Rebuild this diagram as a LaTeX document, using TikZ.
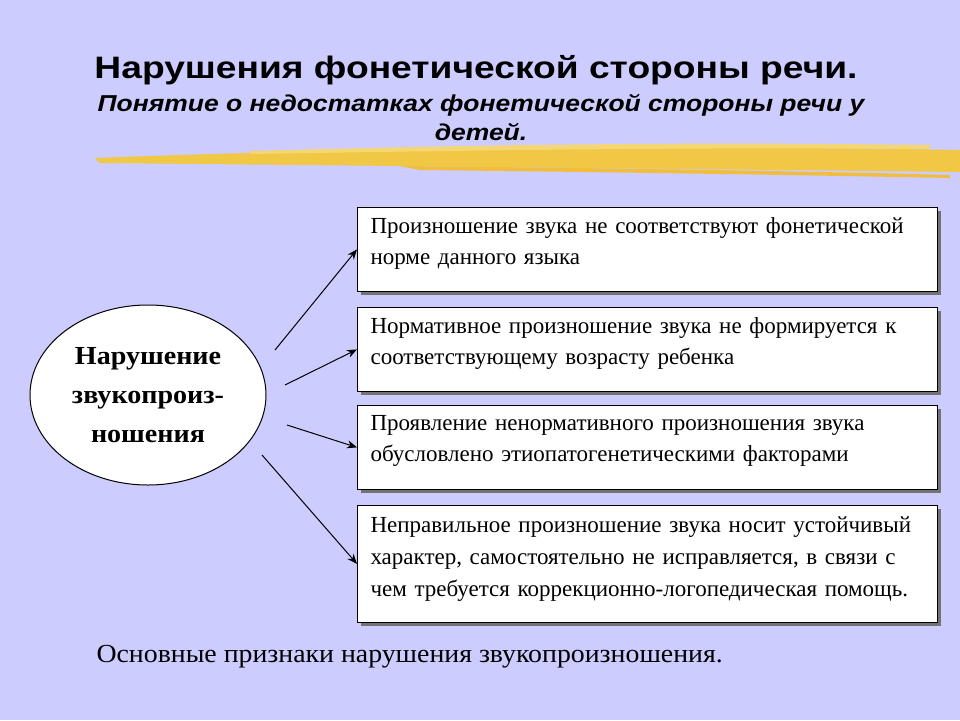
\documentclass[tikz,border=0pt]{standalone}
\usepackage{fontspec}
\usetikzlibrary{shapes.geometric,arrows.meta}
\setmainfont{Liberation Serif}
\newfontfamily\hdr{Liberation Sans}
\definecolor{bg}{RGB}{204,204,255}
\definecolor{brush}{RGB}{240,200,70}
\begin{document}
\begin{tikzpicture}[x=1pt,y=-1pt,
  box/.style={draw=black,fill=white,line width=0.8pt,minimum width=580pt,anchor=north west,inner sep=0pt},
  btext/.style={font=\fontsize{23}{31}\selectfont,align=left,text width=570pt,anchor=north west},
  arr/.style={-{Stealth[length=10pt,width=8pt]},line width=1pt}]
\useasboundingbox (0,0) rectangle (960,720);
\fill[bg] (0,0) rectangle (960,720);
\node[font=\hdr\bfseries\fontsize{31}{34}\selectfont] (t) at (476,70) {\scalebox{1.2}[1]{Нарушения фонетической стороны речи.}};
\node[font=\hdr\bfseries\itshape\fontsize{23}{29}\selectfont,align=center] (st) at (481,118) {\scalebox{1.15}[1]{Понятие о недостатках фонетической стороны речи у}\\\scalebox{1.15}[1]{детей.}};
% brush stroke
\fill[brush] (95,158) .. controls (300,150) and (600,144) .. (960,150) -- (960,172) .. controls (600,168) and (300,165) .. (100,163) -- cycle;
\fill[brush!75!white] (250,151) .. controls (500,144) and (700,142) .. (930,145) -- (930,149) .. controls (700,147) and (500,150) .. (250,154) -- cycle;
\fill[brush!85!orange] (400,166) .. controls (600,168) and (800,171) .. (950,175) -- (950,178) .. controls (800,175) and (600,172) .. (420,170) -- cycle;
% boxes with shadows
\foreach \y/\h in {207/84,307/84,405/84,505/117}{
  \fill[black!55] (361,\y+4) rectangle (941,\y+\h+4);
}
\node[box,minimum height=84pt] (b1) at (357,207) {};
\node[box,minimum height=84pt] (b2) at (357,307) {};
\node[box,minimum height=84pt] (b3) at (357,405) {};
\node[box,minimum height=117pt] (b4) at (357,505) {};
\node[btext] (l1) at (367,214) {Произношение звука не соответствуют фонетической\\норме данного языка};
\node[btext] (l2) at (367,314) {Нормативное произношение звука не формируется к\\соответствующему возрасту ребенка};
\node[btext] (l3) at (367,412) {Проявление ненормативного произношения звука\\обусловлено этиопатогенетическими факторами};
\node[btext,font=\fontsize{23}{32}\selectfont] (l4) at (367,513) {Неправильное произношение звука носит устойчивый\\характер, самостоятельно не исправляется, в связи с\\чем требуется коррекционно-логопедическая помощь.};
\node[draw,fill=white,ellipse,line width=1pt,minimum width=236pt,minimum height=180pt,
  font=\bfseries\fontsize{26}{39}\selectfont,align=center] (e) at (148,395) {\scalebox{1.08}[1]{Нарушение}\\\scalebox{1.08}[1]{звукопроиз-}\\\scalebox{1.08}[1]{ношения}};
\coordinate (e1) at (275,350); \coordinate (e2) at (285,385);
\coordinate (e3) at (287,425); \coordinate (e4) at (262,455);
\draw[arr] (e1) -- (b1.west);
\draw[arr] (e2) -- (b2.west);
\draw[arr] (e3) -- (b3.west);
\draw[arr] (e4) -- (b4.west);
\node[anchor=west,font=\fontsize{26}{30}\selectfont] (bt) at (93,657) {\scalebox{1.07}[1]{Основные признаки нарушения звукопроизношения.}};
\end{tikzpicture}
\end{document}
